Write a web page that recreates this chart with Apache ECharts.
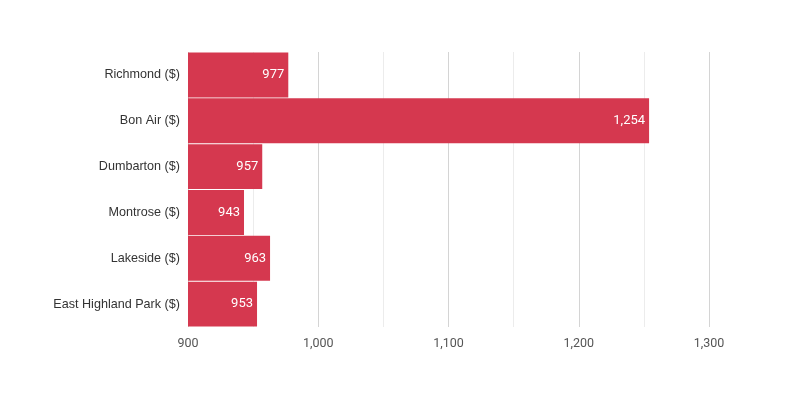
<!DOCTYPE html>
<html>
<head>
<meta charset="utf-8">
<script src="https://cdn.jsdelivr.net/npm/echarts@6/dist/echarts.min.js"></script>
<style>html,body{margin:0;padding:0;background:#fff}#c{width:800px;height:400px}</style>
</head>
<body>
<div id="c"></div>
<script>
var categories = ['Richmond ($)', 'Bon Air ($)', 'Dumbarton ($)', 'Montrose ($)', 'Lakeside ($)', 'East Highland Park ($)'];
var values = [977, 1254, 957, 943, 963, 953];
var xMin = 900, xMax = 1300, xStep = 100;

var chart = echarts.init(document.getElementById('c'), null, {renderer: 'canvas'});
chart.setOption({
  animation: false,
  backgroundColor: '#fff',
  grid: {left: 188, right: 91, top: 52, bottom: 73, containLabel: false},
  xAxis: {
    type: 'value', min: xMin, max: xMax, interval: xStep,
    axisLine: {show: false}, axisTick: {show: false},
    axisLabel: {color: '#555', fontSize: 12.5, fontFamily: 'Roboto', margin: 10,
      formatter: function (v) { return v.toLocaleString('en-US'); }},
    splitLine: {show: true, lineStyle: {color: '#d4d4d4', width: 1}},
    minorTick: {show: false, splitNumber: 2},
    minorSplitLine: {show: true, lineStyle: {color: '#ececec', width: 1}}
  },
  yAxis: {
    type: 'category', data: categories, inverse: true,
    axisLine: {show: false}, axisTick: {show: false},
    axisLabel: {color: '#333', fontSize: 12.6, fontFamily: 'Liberation Sans, Arial', margin: 8}
  },
  series: [{
    type: 'bar', data: values, barCategoryGap: '2%',
    itemStyle: {color: '#d5384f'},
    label: {show: true, position: 'insideRight', color: '#fff', fontSize: 13, fontFamily: 'Roboto', distance: 4,
      formatter: function (p) { return p.value.toLocaleString('en-US'); }}
  }]
});
</script>
</body>
</html>
